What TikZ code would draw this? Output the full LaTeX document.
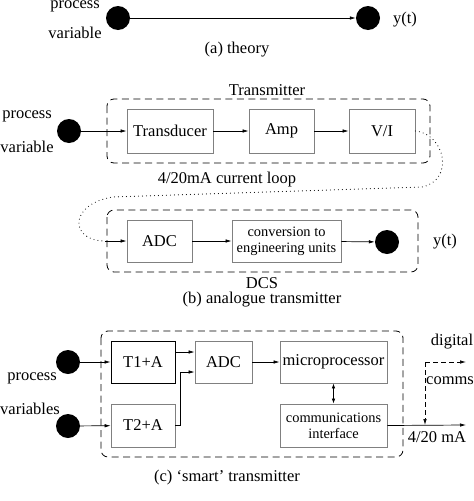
\documentclass[tikz,border=0pt]{standalone}
\usepackage{fontspec}
\setmainfont{Liberation Serif}
\usetikzlibrary{arrows.meta,calc}
\begin{document}
\begin{tikzpicture}[x=1pt,y=-1pt,
  every node/.style={font=\fontsize{16.5}{18}\selectfont},
  txt/.style={inner sep=0pt},
  blk/.style={draw=black!50,line width=0.8pt,inner sep=1pt,align=center},
  blkdark/.style={draw=black,line width=0.9pt,inner sep=1pt,align=center},
  smalltxt/.style={font=\fontsize{14.4}{16}\selectfont},
  dot/.style={circle,fill=black,minimum size=24pt,inner sep=0pt},
  conn/.style={line width=0.7pt,-{Latex[length=6pt,width=3.5pt]}},
  grp/.style={draw=black,line width=0.8pt,dash pattern=on 7pt off 4.5pt,rounded corners=7pt},
  loop/.style={line width=1.1pt,dash pattern=on 0pt off 4pt,line cap=round}]
\useasboundingbox (0,0) rectangle (474,501);

% (a) theory
\node[txt] (aproc) at (75,6) {process};
\node[txt] (avar) at (75,33) {variable};
\node[dot] (ain) at (118,18) {};
\node[dot] (aout) at (368,18) {};
\node[txt] (ay) at (405,20) {y(t)};
\node[txt] (acap) at (237,50) {(a) theory};
\draw[conn] (ain) -- (aout);

% (b) analogue transmitter
\draw[grp] (107,99) rectangle (430,163);
\node[txt] (tlab) at (267,90) {Transmitter};
\node[txt] (bproc) at (27,116) {process};
\node[txt] (bvar) at (27,147) {variable};
\node[dot] (bin) at (69,131) {};
\node[blk,minimum width=86pt,minimum height=44pt] (trans) at (170,131) {Transducer};
\node[blk,minimum width=65pt,minimum height=44pt] (amp) at (281.5,131) {Amp};
\node[blk,minimum width=66pt,minimum height=44pt] (vi) at (382,131) {V/I};
\node[txt] (cl) at (227,180) {4/20mA current loop};
\draw[conn] (bin) -- (trans);
\draw[conn] (trans) -- (amp);
\draw[conn] (amp) -- (vi);

\draw[grp] (107,210) rectangle (418,272);
\node[blk,minimum width=65pt,minimum height=42pt] (badc) at (159.5,241) {ADC};
\node[blk,smalltxt,minimum width=109pt,minimum height=42pt] (conv) at (286.5,241) {conversion to\\engineering units};
\node[dot] (bout) at (387,242) {};
\node[txt] (by) at (445,242) {y(t)};
\node[txt] (dcs) at (262,283) {DCS};
\node[txt] (bcap) at (262,300) {(b) analogue transmitter};
\draw[conn] (badc) -- (conv);
\draw[conn] (conv) -- (bout);
\coordinate (l1) at (422,187);
\coordinate (l2) at (112,197);
\coordinate (l3) at (105,241);
\draw[loop] (vi.east) .. controls (445,134) and (455,180) .. (l1) -- (l2) .. controls (68,205) and (70,241) .. (l3);
\draw[conn] (l3) -- (badc.west);

% (c) smart transmitter
\draw[grp] (101,331) rectangle (403,457);
\node[txt] (cproc) at (32,378) {process};
\node[txt] (cvar) at (30,409) {variables};
\node[dot] (cin1) at (68,362) {};
\node[dot] (cin2) at (68,426) {};
\node[blkdark,minimum width=64pt,minimum height=42pt] (t1) at (143,362) {T1+A};
\node[blk,minimum width=64pt,minimum height=43pt] (t2) at (143,425.5) {T2+A};
\node[blk,minimum width=57pt,minimum height=42pt] (cadc) at (223.5,362) {ADC};
\node[blk,minimum width=107pt,minimum height=42pt] (micro) at (333.5,362) {microprocessor};
\node[blk,smalltxt,minimum width=107pt,minimum height=43pt] (ci) at (333.5,425.5) {communications\\interface};
\node[txt] (ma) at (437,437) {4/20 mA};
\node[txt] (dig) at (452,342) {digital};
\node[txt,anchor=west] (comms) at (426,381) {comms};
\node[txt] (ccap) at (227,478) {(c) ‘smart’ transmitter};
\draw[conn] (cin1) -- (t1);
\draw[conn] (cin2) -- (t2);
\draw[conn] ($(t1.east)+(0,-10)$) -- ($(cadc.west)+(0,-10)$);
\draw[conn] (t2.east) -- ($(t2.east)+(5,0)$) |- ($(cadc.west)+(0,10)$);
\draw[conn] (cadc) -- (micro);
\draw[line width=0.7pt,{Latex[length=5pt,width=3.5pt]}-{Latex[length=5pt,width=3.5pt]}] (micro) -- (ci);
\coordinate (outend) at (466,425);
\coordinate (dc) at (425,362);
\coordinate (dcend) at (466,362);
\coordinate (dcdown) at (425,425);
\draw[conn] (ci.east) -- (outend);
\draw[conn,dash pattern=on 5pt off 3pt] (dc) -- (dcend);
\draw[conn,dash pattern=on 5pt off 3pt] (dc) -- (dcdown);
\end{tikzpicture}
\end{document}
